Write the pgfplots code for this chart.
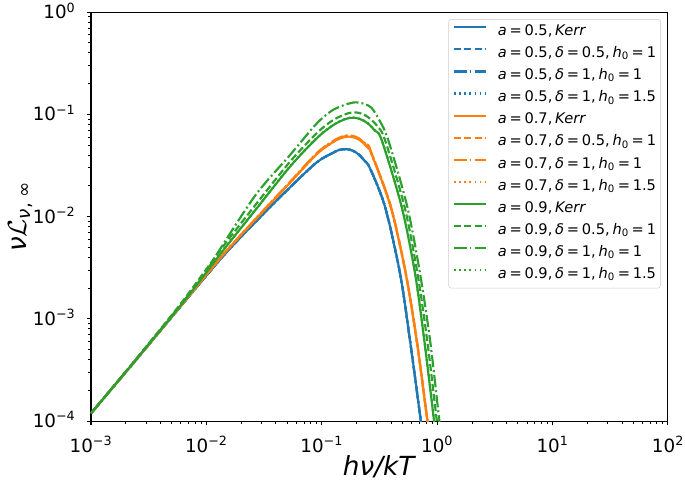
\documentclass[border=0pt]{standalone}
\usepackage{fontspec}
\setmainfont{DejaVu Sans}
\usepackage{pgfplots}
\usepackage{pgfplotstable}
\pgfplotsset{compat=1.18}
\definecolor{tabblue}{HTML}{1F77B4}
\definecolor{taborange}{HTML}{FF7F0E}
\definecolor{tabgreen}{HTML}{2CA02C}
\newcommand{\eqs}{\hspace{0.19em}=\hspace{0.19em}}
\newcommand{\cma}{,\hspace{0.19em}}
\newcommand{\tl}[1]{10\textsuperscript{#1}}
\tikzset{
  lw/.style={line width=1.7pt},
  mdash/.style={dash pattern=on 5.55pt off 2.4pt},
  mdashdot/.style={dash pattern=on 9.6pt off 2.4pt on 1.5pt off 2.4pt},
  mdot/.style={dash pattern=on 1.5pt off 2.475pt},
}
\pgfplotsset{legend image code/.code={\draw[#1] (0pt,3.9pt) -- (25pt,3.9pt);}}
\pgfplotstableread{
x y
0.001 1.189e-4
2.512e-3 4.074e-4
6.109e-3 1.361e-3
1.400e-2 4.121e-3
2.729e-2 9.120e-3
5.297e-2 1.928e-2
9.036e-2 3.388e-2
0.1259 4.217e-2
0.1413 4.477e-2
0.1622 4.571e-2
0.1862 4.406e-2
0.2089 4.046e-2
0.2344 3.524e-2
0.2618 2.958e-2
0.3532 1.247e-2
0.4764 2.786e-3
0.5808 6.194e-4
0.7194 1.023e-4
0.7762 4.898e-5
}\blue
\pgfplotstableread{
x y
0.001 1.189e-4
2.512e-3 4.093e-4
6.109e-3 1.374e-3
1.400e-2 4.246e-3
2.729e-2 9.661e-3
5.297e-2 2.138e-2
9.036e-2 4.074e-2
0.1259 5.370e-2
0.1514 5.929e-2
0.1738 6.053e-2
0.1995 5.834e-2
0.2239 5.370e-2
0.2512 4.699e-2
0.2618 4.467e-2
0.3954 1.247e-2
0.5333 2.786e-3
0.6637 6.194e-4
0.8204 1.023e-4
0.8851 4.898e-5
}\orange
\pgfplotstableread{
x y
0.001 1.189e-4
2.512e-3 4.093e-4
6.109e-3 1.374e-3
1.400e-2 4.246e-3
2.729e-2 9.700e-3
5.297e-2 2.160e-2
9.036e-2 4.130e-2
0.1259 5.450e-2
0.1514 6.020e-2
0.1738 6.150e-2
0.1995 5.930e-2
0.2239 5.450e-2
0.2512 4.770e-2
0.2618 4.520e-2
0.3954 1.260e-2
0.5333 2.800e-3
0.6637 6.220e-4
0.8204 1.028e-4
0.8851 4.920e-5
}\orangeA
\pgfplotstableread{
x y
0.001 1.189e-4
2.512e-3 4.093e-4
6.109e-3 1.380e-3
1.400e-2 4.270e-3
2.729e-2 9.760e-3
5.297e-2 2.180e-2
9.036e-2 4.170e-2
0.1259 5.500e-2
0.1514 6.090e-2
0.1738 6.220e-2
0.1995 5.990e-2
0.2239 5.520e-2
0.2512 4.820e-2
0.2618 4.560e-2
0.3954 1.270e-2
0.5333 2.830e-3
0.6637 6.280e-4
0.8204 1.035e-4
0.8851 4.950e-5
}\orangeB
\pgfplotstableread{
x y
0.001 1.189e-4
2.512e-3 4.121e-4
6.109e-3 1.393e-3
1.400e-2 4.677e-3
2.729e-2 1.202e-2
5.297e-2 3.069e-2
9.036e-2 5.821e-2
0.1259 7.852e-2
0.1622 9.036e-2
0.1875 9.247e-2
0.2153 8.974e-2
0.2512 8.128e-2
0.2884 6.918e-2
0.3304 5.598e-2
0.4920 1.247e-2
0.6427 2.786e-3
0.7727 6.194e-4
0.9376 1.023e-4
1.0069 4.898e-5
}\greenS
\pgfplotstableread{
x y
0.001 1.189e-4
2.512e-3 4.169e-4
6.109e-3 1.445e-3
1.400e-2 5.129e-3
2.729e-2 1.346e-2
5.297e-2 3.436e-2
9.036e-2 6.531e-2
0.1259 8.810e-2
0.1679 0.1021
0.1941 0.1045
0.2239 0.1012
0.2570 9.226e-2
0.3020 7.691e-2
0.3532 5.598e-2
0.5212 1.247e-2
0.6745 2.786e-3
0.8185 6.194e-4
0.9908 1.023e-4
1.0666 4.898e-5
}\greenD
\pgfplotstableread{
x y
0.001 1.189e-4
2.512e-3 4.121e-4
6.109e-3 1.413e-3
9.397e-3 2.630e-3
1.400e-2 5.370e-3
2.729e-2 1.679e-2
5.297e-2 3.990e-2
9.036e-2 8.128e-2
0.1259 0.1109
0.1738 0.1279
0.2004 0.1309
0.2317 0.1268
0.2692 0.1161
0.3162 8.710e-2
0.3767 5.598e-2
0.5508 1.247e-2
0.7096 2.786e-3
0.8670 6.194e-4
1.0423 1.023e-4
1.122 4.898e-5
}\greenDD
\pgfplotstableread{
x y
0.001 1.189e-4
2.512e-3 4.130e-4
6.109e-3 1.398e-3
1.400e-2 4.700e-3
2.729e-2 1.210e-2
5.297e-2 3.090e-2
9.036e-2 5.860e-2
0.1259 7.900e-2
0.1622 9.080e-2
0.1875 9.300e-2
0.2153 9.020e-2
0.2512 8.180e-2
0.2884 6.970e-2
0.3304 5.640e-2
0.4920 1.260e-2
0.6427 2.810e-3
0.7727 6.240e-4
0.9376 1.030e-4
1.0069 4.930e-5
}\greenP
\begin{document}
\begin{tikzpicture}
\useasboundingbox (-71.65pt,-46.46pt) rectangle (467.7pt,331.5pt);
\begin{axis}[
  at={(0,0)}, anchor=south west,
  scale only axis, width=454.3pt, height=322pt,
  xmode=log, ymode=log,
  xmin=1e-3, xmax=1e2, ymin=1e-4, ymax=1,
  xtick={1e-3,1e-2,1e-1,1,10,100},
  xticklabels={\tl{−3},\tl{−2},\tl{−1},\tl{0},\tl{1},\tl{2}},
  ytick={1e-4,1e-3,1e-2,1e-1,1},
  yticklabels={\tl{−4},\tl{−3},\tl{−2},\tl{−1},\tl{0}},
  minor xtick={2e-3,3e-3,4e-3,5e-3,6e-3,7e-3,8e-3,9e-3,0.02,0.03,0.04,0.05,0.06,0.07,0.08,0.09,0.2,0.3,0.4,0.5,0.6,0.7,0.8,0.9,2,3,4,5,6,7,8,9,20,30,40,50,60,70,80,90},
  minor ytick={2e-4,3e-4,4e-4,5e-4,6e-4,7e-4,8e-4,9e-4,2e-3,3e-3,4e-3,5e-3,6e-3,7e-3,8e-3,9e-3,0.02,0.03,0.04,0.05,0.06,0.07,0.08,0.09,0.2,0.3,0.4,0.5,0.6,0.7,0.8,0.9},
  tick align=outside, xtick pos=left, ytick pos=left,
  major tick length=3.4pt, minor tick length=2.1pt,
  every tick/.style={black, line width=0.8pt},
  minor tick style={line width=0.6pt},
  axis line style={line width=0.8pt},
  tick label style={font=\fontsize{14.4}{16}\selectfont},
  xticklabel style={anchor=base, inner sep=0pt, yshift=-21pt},
  yticklabel style={anchor=base east, inner sep=0pt, xshift=-8.7pt, yshift=-5.2pt},
  xlabel={\textit{hν/kT}},
  ylabel={\textit{ν}$\mathcal{L}$\textsubscript{\textit{ν}, ∞}},
  every axis x label/.style={at={(axis description cs:0.5,-0.132)}, anchor=base, inner sep=0pt, font=\fontsize{20.7}{24}\selectfont},
  every axis y label/.style={at={(axis description cs:-0.144,0.5)}, rotate=90, anchor=north, inner sep=0pt, font=\fontsize{20.7}{24}\selectfont},
  legend cell align=left,
  legend style={at={(1,1)}, anchor=north east, xshift=-5.5pt, yshift=-5.5pt,
    draw=black!20, rounded corners=2.5pt, fill=white,
    inner xsep=3.7pt, inner ysep=4.4pt, row sep=5.9pt,
    font=\fontsize{11.5}{13}\selectfont,
    nodes={inner sep=0pt, text height=8.3pt, text depth=3.2pt},
    /tikz/every odd column/.append style={column sep=8.4pt}},
]
\addplot[tabblue, lw, smooth] table {\blue};
\addlegendentry{\textit{a}\eqs 0.5\cma\textit{Kerr}}
\addplot[tabblue, lw, mdash, smooth] table {\blue};
\addlegendentry{\textit{a}\eqs 0.5\cma\textit{δ}\eqs 0.5\cma\textit{h}\textsubscript{0}\eqs 1}
\addplot[tabblue, lw, mdashdot, smooth] table {\blue};
\addlegendentry{\textit{a}\eqs 0.5\cma\textit{δ}\eqs 1\cma\textit{h}\textsubscript{0}\eqs 1}
\addplot[tabblue, lw, mdot, smooth] table {\blue};
\addlegendentry{\textit{a}\eqs 0.5\cma\textit{δ}\eqs 1\cma\textit{h}\textsubscript{0}\eqs 1.5}
\addplot[taborange, lw, smooth] table {\orange};
\addlegendentry{\textit{a}\eqs 0.7\cma\textit{Kerr}}
\addplot[taborange, lw, mdash, smooth] table {\orangeA};
\addlegendentry{\textit{a}\eqs 0.7\cma\textit{δ}\eqs 0.5\cma\textit{h}\textsubscript{0}\eqs 1}
\addplot[taborange, lw, mdashdot, smooth] table {\orangeB};
\addlegendentry{\textit{a}\eqs 0.7\cma\textit{δ}\eqs 1\cma\textit{h}\textsubscript{0}\eqs 1}
\addplot[taborange, lw, mdot, smooth] table {\orange};
\addlegendentry{\textit{a}\eqs 0.7\cma\textit{δ}\eqs 1\cma\textit{h}\textsubscript{0}\eqs 1.5}
\addplot[tabgreen, lw, smooth] table {\greenS};
\addlegendentry{\textit{a}\eqs 0.9\cma\textit{Kerr}}
\addplot[tabgreen, lw, mdash, smooth] table {\greenD};
\addlegendentry{\textit{a}\eqs 0.9\cma\textit{δ}\eqs 0.5\cma\textit{h}\textsubscript{0}\eqs 1}
\addplot[tabgreen, lw, mdashdot, smooth] table {\greenDD};
\addlegendentry{\textit{a}\eqs 0.9\cma\textit{δ}\eqs 1\cma\textit{h}\textsubscript{0}\eqs 1}
\addplot[tabgreen, lw, mdot, smooth] table {\greenP};
\addlegendentry{\textit{a}\eqs 0.9\cma\textit{δ}\eqs 1\cma\textit{h}\textsubscript{0}\eqs 1.5}
\end{axis}
\end{tikzpicture}
\end{document}
